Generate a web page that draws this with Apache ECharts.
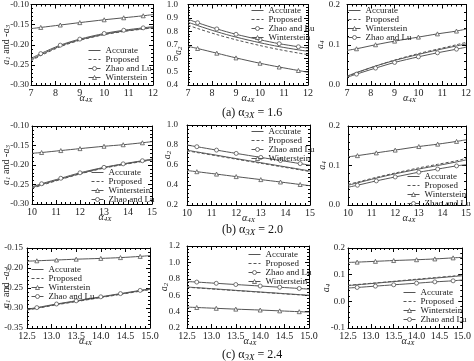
<!DOCTYPE html>
<html><head><meta charset="utf-8">
<script src="https://cdn.jsdelivr.net/npm/echarts@6/dist/echarts.min.js"></script>
<style>html,body{margin:0;padding:0;background:#fff}#c{width:474px;height:361px}</style>
</head><body><div id="c"></div>
<script>
// ---- data ----
const x1 = [7, 7.4, 8.2, 9.0, 10.0, 10.8, 11.6, 12];
const x2 = [10, 10.4, 11.2, 12.0, 13.0, 13.8, 14.6, 15];
const x3 = [12.5, 12.7, 13.1, 13.5, 14.0, 14.4, 14.8, 15];

const p11_acc  = [-0.237, -0.225, -0.203, -0.188, -0.174, -0.166, -0.160, -0.157];
const p11_pro  = [-0.240, -0.227, -0.205, -0.189, -0.175, -0.167, -0.161, -0.158];
const p11_zhao = [-0.234, -0.222, -0.201, -0.186, -0.172, -0.164, -0.158, -0.155];
const p11_wint = [-0.160, -0.157, -0.151, -0.145, -0.138, -0.133, -0.128, -0.125];

const p12_acc  = [0.868, 0.843, 0.797, 0.757, 0.715, 0.686, 0.662, 0.651];
const p12_pro  = [0.846, 0.821, 0.776, 0.737, 0.694, 0.664, 0.638, 0.626];
const p12_zhao = [0.890, 0.864, 0.818, 0.778, 0.737, 0.708, 0.685, 0.675];
const p12_wint = [0.688, 0.672, 0.637, 0.602, 0.562, 0.534, 0.508, 0.495];

const p13_acc  = [0.022, 0.031, 0.047, 0.061, 0.076, 0.087, 0.097, 0.102];
const p13_pro  = [0.021, 0.030, 0.047, 0.062, 0.078, 0.089, 0.100, 0.106];
const p13_wint = [0.086, 0.090, 0.100, 0.109, 0.119, 0.127, 0.134, 0.139];
const p13_zhao = [0.019, 0.027, 0.042, 0.056, 0.070, 0.080, 0.089, 0.094];

const p21_acc  = [-0.258, -0.250, -0.236, -0.222, -0.207, -0.198, -0.190, -0.186];
const p21_pro  = [-0.260, -0.252, -0.237, -0.223, -0.208, -0.199, -0.191, -0.187];
const p21_wint = [-0.170, -0.168, -0.163, -0.158, -0.152, -0.148, -0.143, -0.140];
const p21_zhao = [-0.256, -0.248, -0.234, -0.220, -0.206, -0.197, -0.189, -0.185];

const p22_acc  = [0.748, 0.731, 0.698, 0.664, 0.623, 0.590, 0.557, 0.540];
const p22_pro  = [0.742, 0.725, 0.692, 0.658, 0.617, 0.584, 0.551, 0.534];
const p22_zhao = [0.800, 0.783, 0.749, 0.716, 0.676, 0.645, 0.614, 0.598];
const p22_wint = [0.545, 0.533, 0.509, 0.484, 0.454, 0.430, 0.405, 0.393];

const p23_acc  = [0.050, 0.056, 0.068, 0.079, 0.091, 0.100, 0.109, 0.114];
const p23_pro  = [0.052, 0.058, 0.070, 0.081, 0.094, 0.103, 0.112, 0.118];
const p23_wint = [0.122, 0.125, 0.132, 0.139, 0.148, 0.154, 0.161, 0.165];
const p23_zhao = [0.045, 0.050, 0.061, 0.071, 0.083, 0.091, 0.099, 0.102];

const p31_acc  = [-0.304, -0.300, -0.291, -0.283, -0.273, -0.265, -0.257, -0.253];
const p31_pro  = [-0.305, -0.301, -0.292, -0.284, -0.274, -0.266, -0.258, -0.254];
const p31_wint = [-0.183, -0.182, -0.180, -0.178, -0.176, -0.174, -0.171, -0.169];
const p31_zhao = [-0.303, -0.299, -0.290, -0.282, -0.272, -0.264, -0.256, -0.252];

const p32_acc  = [0.700, 0.692, 0.676, 0.659, 0.639, 0.623, 0.607, 0.599];
const p32_pro  = [0.697, 0.689, 0.672, 0.656, 0.636, 0.620, 0.604, 0.596];
const p32_zhao = [0.767, 0.760, 0.745, 0.730, 0.712, 0.697, 0.682, 0.674];
const p32_wint = [0.455, 0.450, 0.440, 0.430, 0.419, 0.409, 0.399, 0.394];

const p33_acc  = [0.059, 0.062, 0.068, 0.074, 0.081, 0.087, 0.093, 0.096];
const p33_pro  = [0.060, 0.063, 0.069, 0.075, 0.083, 0.089, 0.095, 0.099];
const p33_wint = [0.146, 0.147, 0.150, 0.153, 0.156, 0.159, 0.163, 0.165];
const p33_zhao = [0.050, 0.052, 0.057, 0.062, 0.068, 0.073, 0.077, 0.080];

const legA = ['Accurate', 'Proposed', 'Zhao and Lu', 'Winterstein'];
const legB = ['Accurate', 'Proposed', 'Winterstein', 'Zhao and Lu'];
const captions = [['(a) ', '3X', ' = 1.6'], ['(b) ', '3X', ' = 2.0'], ['(c) ', '3X', ' = 2.4']];

// x range: [min, max, interval, decimals]; y range likewise
const panels = [
  {x: x1, xr: [7, 12, 1, 0], yr: [-0.30, -0.10, 0.05, 2], yn: 'L', leg: legA,
   s: {'Accurate': p11_acc, 'Proposed': p11_pro, 'Zhao and Lu': p11_zhao, 'Winterstein': p11_wint}},
  {x: x1, xr: [7, 12, 1, 0], yr: [0.4, 1.0, 0.1, 1], yn: 'M', leg: legA,
   s: {'Accurate': p12_acc, 'Proposed': p12_pro, 'Zhao and Lu': p12_zhao, 'Winterstein': p12_wint}},
  {x: x1, xr: [7, 12, 1, 0], yr: [0.0, 0.2, 0.1, 1], yn: 'R', leg: legB,
   s: {'Accurate': p13_acc, 'Proposed': p13_pro, 'Zhao and Lu': p13_zhao, 'Winterstein': p13_wint}},
  {x: x2, xr: [10, 15, 1, 0], yr: [-0.30, -0.10, 0.05, 2], yn: 'L', leg: legB,
   s: {'Accurate': p21_acc, 'Proposed': p21_pro, 'Zhao and Lu': p21_zhao, 'Winterstein': p21_wint}},
  {x: x2, xr: [10, 15, 1, 0], yr: [0.2, 1.0, 0.2, 1], yn: 'M', leg: legA,
   s: {'Accurate': p22_acc, 'Proposed': p22_pro, 'Zhao and Lu': p22_zhao, 'Winterstein': p22_wint}},
  {x: x2, xr: [10, 15, 1, 0], yr: [0.0, 0.2, 0.1, 1], yn: 'R', leg: legB,
   s: {'Accurate': p23_acc, 'Proposed': p23_pro, 'Zhao and Lu': p23_zhao, 'Winterstein': p23_wint}},
  {x: x3, xr: [12.5, 15, 0.5, 1], yr: [-0.35, -0.15, 0.05, 2], yn: 'L', leg: legB,
   s: {'Accurate': p31_acc, 'Proposed': p31_pro, 'Zhao and Lu': p31_zhao, 'Winterstein': p31_wint}},
  {x: x3, xr: [12.5, 15, 0.5, 1], yr: [0.2, 1.2, 0.2, 1], yn: 'M', leg: legA,
   s: {'Accurate': p32_acc, 'Proposed': p32_pro, 'Zhao and Lu': p32_zhao, 'Winterstein': p32_wint}},
  {x: x3, xr: [12.5, 15, 0.5, 1], yr: [-0.1, 0.2, 0.1, 1], yn: 'R', leg: legB,
   s: {'Accurate': p33_acc, 'Proposed': p33_pro, 'Zhao and Lu': p33_zhao, 'Winterstein': p33_wint}}
];

// ---- layout (positions only) ----
// yShift: + moves the y-axis name down (px)
const layout = [
  {g: [31, 3, 122, 82],  lg: [88, 46],  yGap: 19, yMar: 2,  xShift: -6, yShift: 0},
  {g: [188, 3, 120, 82], lg: [251, 6],  yGap: 4,  yMar: 10, xShift: 0,  yShift: 6},
  {g: [347, 3, 120, 82], lg: [348, 6],  yGap: 21, yMar: 7,  xShift: 3,  yShift: 0},
  {g: [32, 126, 120, 78], lg: [91, 168], yGap: 20, yMar: 3, xShift: 13, yShift: 0},
  {g: [187, 125, 123, 80], lg: [251, 127], yGap: 14, yMar: 9, xShift: 0, yShift: -10},
  {g: [348, 126, 119, 79], lg: [407, 172], yGap: 20, yMar: 8, xShift: 2, yShift: 0},
  {g: [27, 248, 123, 80], lg: [31, 265], yGap: 15, yMar: 4, xShift: -3, yShift: 0},
  {g: [187, 246, 122, 82], lg: [248, 250], yGap: 17, yMar: 7, xShift: 2, yShift: 0},
  {g: [348, 248, 119, 80], lg: [403, 288], yGap: 16, yMar: 3, xShift: 3, yShift: 0}
];
const capPos = [[222, 106], [222, 223], [222, 348]];

const FONT = 'Liberation Serif';
const LINE = '#555';
const CLEAR = 'rgba(0,0,0,0)';
const rich = {
  i: {fontFamily: FONT, fontStyle: 'italic', fontSize: 10, color: '#222'},
  n: {fontFamily: FONT, fontSize: 10, color: '#222'},
  s: {fontFamily: FONT, fontStyle: 'italic', fontSize: 7, color: '#222', padding: [5, 0, 0, 0]}
};
const yNames = {
  L: '{i|a}{s|1}{n| and -}{i|a}{s|3}',
  M: '{i|a}{s|2}',
  R: '{i|a}{s|4}'
};
const symbolOf = name => name === 'Zhao and Lu' ? 'circle' : (name === 'Winterstein' ? 'triangle' : 'none');

const grid = [], xAxis = [], yAxis = [], series = [], legend = [], title = [];
const axisCommon = {
  axisLine: {show: true, onZero: false, lineStyle: {color: '#000', width: 1}},
  axisTick: {show: true, inside: true, length: 4, lineStyle: {color: '#000'}},
  minorTick: {show: true, splitNumber: 5, length: 2, lineStyle: {color: '#000'}},
  splitLine: {show: false}
};
panels.forEach((p, i) => {
  const L = layout[i];
  grid.push({left: L.g[0], top: L.g[1], width: L.g[2], height: L.g[3], containLabel: false});
  const xr = p.xr, yr = p.yr;
  const padX = L.xShift >= 0 ? [0, 0, 0, 2 * L.xShift] : [0, -2 * L.xShift, 0, 0];
  const padY = L.yShift >= 0 ? [0, 2 * L.yShift, 0, 0] : [0, 0, 0, -2 * L.yShift];
  xAxis.push(Object.assign({}, axisCommon, {
    type: 'value', gridIndex: i, position: 'bottom', min: xr[0], max: xr[1], interval: xr[2],
    axisLabel: {margin: 3, fontFamily: FONT, fontSize: 10, color: '#222', formatter: v => v.toFixed(xr[3]), showMinLabel: true, showMaxLabel: true},
    name: '{i|α}{s|4X}', nameLocation: 'middle', nameGap: 7, nameMoveOverlap: false,
    nameTextStyle: {rich: rich, padding: padX}
  }));
  yAxis.push(Object.assign({}, axisCommon, {
    type: 'value', gridIndex: i, position: 'left', min: yr[0], max: yr[1], interval: yr[2],
    axisLabel: {margin: L.yMar, fontFamily: FONT, fontSize: 9, color: '#222', formatter: v => v.toFixed(yr[3]), showMinLabel: true, showMaxLabel: true},
    name: yNames[p.yn], nameLocation: 'middle', nameGap: L.yGap, nameMoveOverlap: false,
    nameTextStyle: {rich: rich, padding: padY}
  }));
  Object.keys(p.s).forEach(name => {
    const ys = p.s[name];
    const sym = symbolOf(name);
    series.push({
      type: 'line', name: name, xAxisIndex: i, yAxisIndex: i, smooth: 0.3,
      symbol: sym, symbolSize: 4, showSymbol: sym !== 'none',
      lineStyle: {color: LINE, width: 1, type: name === 'Proposed' ? [3, 2] : 'solid'},
      itemStyle: {color: '#fff', borderColor: LINE, borderWidth: 0.8},
      emphasis: {disabled: true},
      data: p.x.map((xv, k) => (sym !== 'none' && (k === 0 || k === p.x.length - 1)) ? {value: [xv, ys[k]], symbol: 'none'} : [xv, ys[k]])
    });
  });
  legend.push({
    data: p.leg.map(n => symbolOf(n) === 'none'
      ? {name: n, itemStyle: {color: CLEAR, borderColor: CLEAR, borderWidth: 0}}
      : {name: n, itemStyle: {color: '#fff', borderColor: LINE, borderWidth: 0.8}}),
    orient: 'vertical', left: L.lg[0], top: L.lg[1], padding: 0,
    itemWidth: 12, itemHeight: 5, itemGap: 0, itemTextGap: 2, selectedMode: false,
    lineStyle: {width: 1},
    textStyle: {fontFamily: FONT, fontSize: 9, lineHeight: 8, color: '#222'}
  });
});
// mirrored top / right axes for the frame ticks
panels.forEach((p, i) => {
  xAxis.push(Object.assign({}, axisCommon, {type: 'value', gridIndex: i, position: 'top', min: p.xr[0], max: p.xr[1], interval: p.xr[2], axisLabel: {show: false}}));
  yAxis.push(Object.assign({}, axisCommon, {type: 'value', gridIndex: i, position: 'right', min: p.yr[0], max: p.yr[1], interval: p.yr[2], axisLabel: {show: false}}));
});
captions.forEach((c, i) => {
  title.push({
    text: '{n|' + c[0] + 'α}{s|' + c[1] + '}{n|' + c[2] + '}',
    left: capPos[i][0], top: capPos[i][1], padding: 0,
    textStyle: {fontWeight: 'normal', rich: {
      n: {fontFamily: FONT, fontSize: 12, fontWeight: 'normal', color: '#111'},
      s: {fontFamily: FONT, fontStyle: 'italic', fontWeight: 'normal', fontSize: 9, color: '#111', padding: [5, 0, 0, 0]}
    }}
  });
});

const chart = echarts.init(document.getElementById('c'), null, {renderer: 'canvas'});
chart.setOption({animation: false, backgroundColor: '#fff', grid, xAxis, yAxis, series, legend, title});
</script></body></html>
